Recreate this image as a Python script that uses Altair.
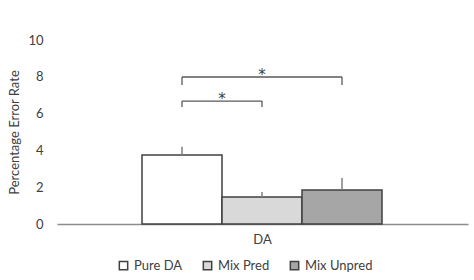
import altair as alt
import pandas as pd

groups = ["Pure DA", "Mix Pred", "Mix Unpred"]
positions = [0, 1, 2]
means = [3.75, 1.47, 1.85]
errors = [0.45, 0.27, 0.65]
colors = ["#ffffff", "#d9d9d9", "#a6a6a6"]

bracket_from = [0, 0]
bracket_to = [1, 2]
bracket_y = [6.68, 7.99]
bracket_tip = [6.36, 7.55]
bracket_label = ["*", "*"]

y_ticks = [0, 2, 4, 6, 8, 10]

FONT = "Lato"
TXT = "#404040"

bars = pd.DataFrame({
    "group": groups,
    "pos": positions,
    "mean": means,
    "err": errors,
})
bars["left"] = bars["pos"] - 0.5
bars["right"] = bars["pos"] + 0.5
bars["upper"] = bars["mean"] + bars["err"]

br = pd.DataFrame({
    "x1": bracket_from,
    "x2": bracket_to,
    "y": bracket_y,
    "tip": bracket_tip,
    "label": bracket_label,
})
br["mid"] = (br["x1"] + br["x2"]) / 2

xscale = alt.Scale(domain=[-1.5625, 3.575], nice=False, zero=False)
yscale = alt.Scale(domain=[0, 10], nice=False)

xaxis = alt.Axis(values=[1], labelExpr="'DA'", title=None, grid=False,
                 ticks=False, domain=True, domainColor="#8c8c8c",
                 domainWidth=1.5, labelPadding=9, labelFontSize=13,
                 labelFont=FONT, labelColor=TXT)
yaxis = alt.Axis(values=y_ticks, title="Percentage Error Rate", grid=False,
                 ticks=False, domain=False, labelPadding=14,
                 labelOverlap=False, labelFlush=False,
                 labelFontSize=13, labelFont=FONT, labelColor=TXT,
                 titleFont=FONT, titleFontSize=13, titleColor=TXT,
                 titleFontWeight="normal", titlePadding=6)

base = alt.Chart(bars)

bar_layer = base.mark_rect(stroke="#404040", strokeWidth=1.5).encode(
    x=alt.X("left:Q", scale=xscale, axis=xaxis),
    x2="right:Q",
    y=alt.Y("mean:Q", scale=yscale, axis=yaxis),
    y2=alt.datum(0),
    fill=alt.Fill("group:N", scale=alt.Scale(domain=groups, range=colors),
                  legend=alt.Legend(title=None, orient="none", direction="horizontal",
                                    legendX=60, legendY=219, symbolType="square",
                                    symbolSize=70, symbolStrokeColor="#404040",
                                    symbolStrokeWidth=1.5, labelFont=FONT,
                                    labelFontSize=13, labelColor=TXT,
                                    columnPadding=17, labelOffset=4)),
)

err_layer = base.mark_rule(color="#7f7f7f", strokeWidth=1.5).encode(
    x=alt.X("pos:Q", scale=xscale, axis=xaxis),
    y=alt.Y("mean:Q", scale=yscale, axis=yaxis),
    y2="upper:Q",
)

bb = alt.Chart(br)
hline = bb.mark_rule(color="#595959", strokeWidth=1.3).encode(
    x=alt.X("x1:Q", scale=xscale, axis=xaxis), x2="x2:Q",
    y=alt.Y("y:Q", scale=yscale, axis=yaxis)
)
lv = bb.mark_rule(color="#595959", strokeWidth=1.3).encode(
    x=alt.X("x1:Q", scale=xscale, axis=xaxis),
    y=alt.Y("y:Q", scale=yscale, axis=yaxis), y2="tip:Q"
)
rv = bb.mark_rule(color="#595959", strokeWidth=1.3).encode(
    x=alt.X("x2:Q", scale=xscale, axis=xaxis),
    y=alt.Y("y:Q", scale=yscale, axis=yaxis), y2="tip:Q"
)
star = bb.mark_text(font="DejaVu Sans", fontSize=15, color="#404040",
                    baseline="middle", dy=-2).encode(
    x=alt.X("mid:Q", scale=xscale, axis=xaxis),
    y=alt.Y("y:Q", scale=yscale, axis=yaxis), text="label:N"
)

chart = alt.layer(bar_layer, err_layer, hline, lv, rv, star).properties(
    width=411, height=184,
    autosize=alt.AutoSizeParams(type="none"),
    padding={"left": 57, "top": 40, "right": 6, "bottom": 56},
    background="white",
).configure_view(stroke=None).configure_axisY(labelOverlap=False)

chart.save("out.html", embed_options={"renderer": "svg", "actions": False})
